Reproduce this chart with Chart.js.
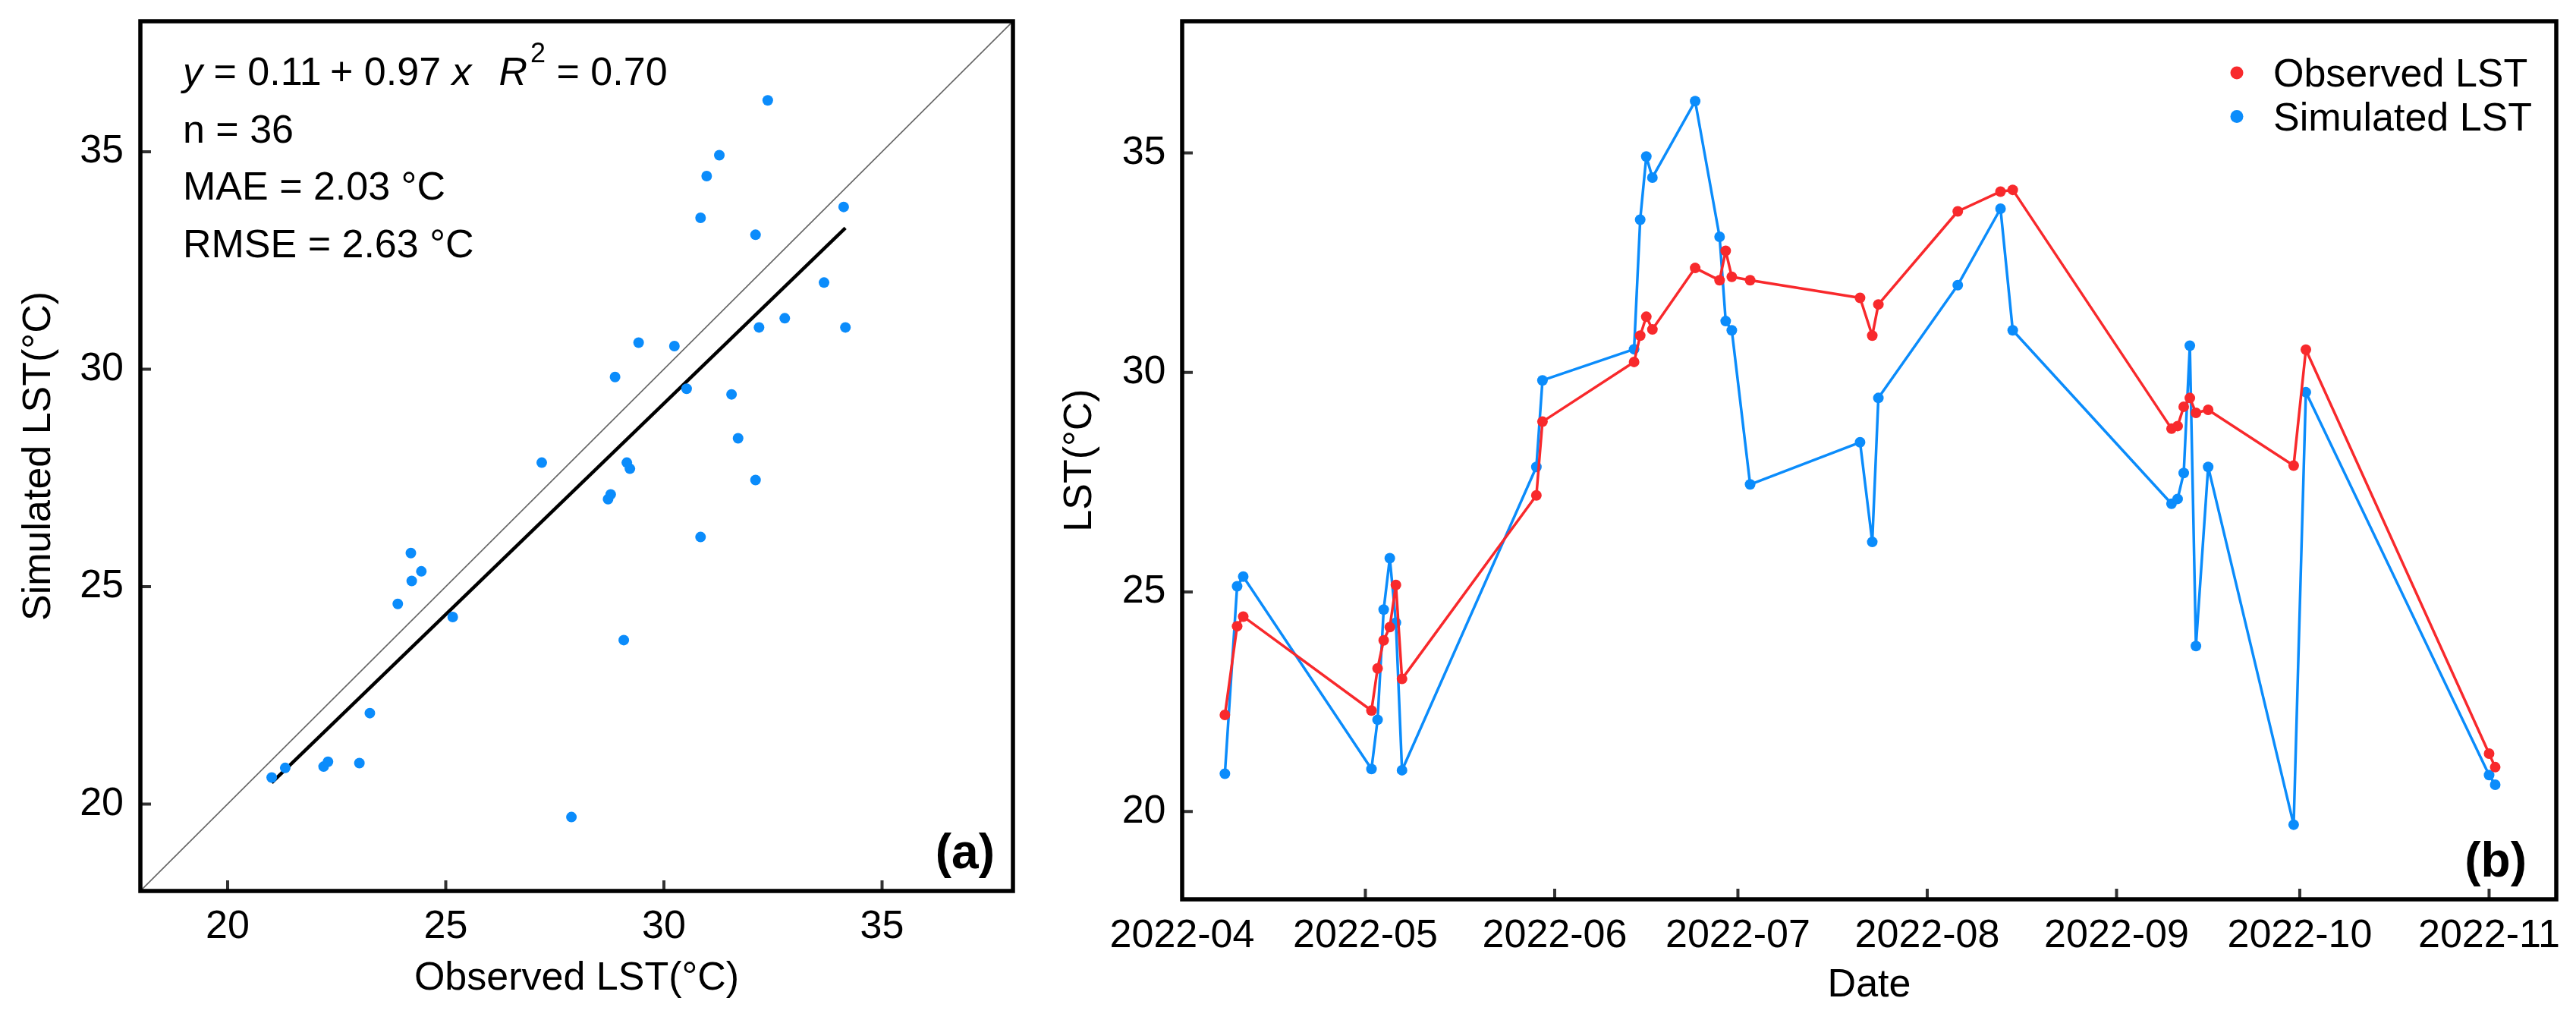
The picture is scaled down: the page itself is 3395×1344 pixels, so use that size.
<!DOCTYPE html>
<html>
<head>
<meta charset="utf-8">
<title>Observed vs simulated LST</title>
<script src="https://cdn.jsdelivr.net/npm/chart.js@4.4.1/dist/chart.umd.min.js"></script>
<style>
  html, body { margin: 0; padding: 0; background: #fff; overflow: hidden; }
  canvas { position: absolute; left: 0; top: 0; }
</style>
</head>
<body>
<canvas id="scatterChart" width="3395" height="1344"></canvas>
<canvas id="seriesChart" width="3395" height="1344"></canvas>
<script>
// acquisition dates, one per observed/simulated pair
const dates = [
  '2022-04-08', '2022-04-10', '2022-04-11', '2022-05-02', '2022-05-03', '2022-05-04',
  '2022-05-05', '2022-05-06', '2022-05-07', '2022-05-29', '2022-05-30', '2022-06-14',
  '2022-06-15', '2022-06-16', '2022-06-17', '2022-06-24', '2022-06-28', '2022-06-29',
  '2022-06-30', '2022-07-03', '2022-07-21', '2022-07-23', '2022-07-24', '2022-08-06',
  '2022-08-13', '2022-08-15', '2022-09-10', '2022-09-11', '2022-09-12', '2022-09-13',
  '2022-09-14', '2022-09-16', '2022-09-30', '2022-10-02', '2022-11-01', '2022-11-02'
];
const observedLST = [
  22.20, 24.22, 24.44, 22.30, 23.26, 23.90,
  24.20, 25.16, 23.02, 27.20, 28.88, 30.24,
  30.84, 31.27, 30.98, 32.38, 32.10, 32.77,
  32.18, 32.10, 31.70, 30.84, 31.55, 33.67,
  34.12, 34.16, 28.72, 28.78, 29.22, 29.42,
  29.08, 29.15, 27.88, 30.52, 21.32, 21.01
];
const simulatedLST = [
  20.86, 25.13, 25.35, 20.97, 22.09, 24.60,
  25.77, 24.30, 20.94, 27.85, 29.82, 30.53,
  33.48, 34.92, 34.44, 36.18, 33.09, 31.17,
  30.96, 27.45, 28.41, 26.14, 29.42, 31.99,
  33.73, 30.96, 27.01, 27.12, 27.71, 30.61,
  23.77, 27.85, 19.70, 29.55, 20.83, 20.61
];

// fit reported on panel (a)
const fitIntercept = 0.11;
const fitSlope = 0.97;
const fitR2 = '0.70';
const statLines = ['n = 36', 'MAE = 2.03 \u00B0C', 'RMSE = 2.63 \u00B0C'];

const lstTicks = [20, 25, 30, 35];
const lstMin = 18, lstMax = 38;
const monthTicks = ['2022-04', '2022-05', '2022-06', '2022-07', '2022-08', '2022-09', '2022-10', '2022-11'];
const dateMin = '2022-04-01', dateMax = '2022-11-12';

const RED = '#f8292c';
const BLUE = '#0b8cfb';
const FONT = "'Liberation Sans', Arial, sans-serif";

Chart.defaults.font.family = FONT;
Chart.defaults.font.size = 52;
Chart.defaults.font.lineHeight = 1.2;
Chart.defaults.color = '#000';

function dayNum(s) {
  const p = s.split('-');
  return Date.UTC(+p[0], +p[1] - 1, p[2] ? +p[2] : 1) / 864e5;
}

const monthByDay = {};
monthTicks.forEach(m => { monthByDay[dayNum(m)] = m; });

function fixTicks(values) {
  return function(scale) { scale.ticks = values.map(v => ({value: v})); };
}
function fixSize(prop, size) {
  return function(scale) {
    scale[prop] = size;
    scale.paddingLeft = 0; scale.paddingRight = 0;
    scale.paddingTop = 0; scale.paddingBottom = 0;
  };
}

// box round the plot area and ticks pointing inwards
const frameAndTicks = {
  id: 'frameAndTicks',
  afterDraw(chart) {
    const {ctx, chartArea: a} = chart;
    const x = chart.scales.x, y = chart.scales.y;
    ctx.save();
    ctx.strokeStyle = '#333';
    ctx.lineWidth = 4;
    ctx.beginPath();
    x.ticks.forEach(t => {
      const p = x.getPixelForValue(t.value);
      ctx.moveTo(p, a.bottom); ctx.lineTo(p, a.bottom - 14);
    });
    y.ticks.forEach(t => {
      const p = y.getPixelForValue(t.value);
      ctx.moveTo(a.left, p); ctx.lineTo(a.left + 14, p);
    });
    ctx.stroke();
    ctx.strokeStyle = '#000';
    ctx.lineWidth = 5.5;
    ctx.strokeRect(a.left, a.top, a.right - a.left, a.bottom - a.top);
    ctx.restore();
  }
};

const panelTag = {
  id: 'panelTag',
  afterDraw(chart, args, opts) {
    const {ctx, chartArea: a} = chart;
    ctx.save();
    ctx.font = 'bold 64px ' + FONT;
    ctx.fillStyle = '#000';
    ctx.textAlign = 'right';
    ctx.textBaseline = 'alphabetic';
    ctx.fillText(opts.text, a.right - opts.dx, a.bottom - opts.dy);
    ctx.restore();
  }
};

const statsText = {
  id: 'statsText',
  afterDraw(chart) {
    const {ctx, chartArea: a} = chart;
    const x0 = a.left + 56;
    let base = a.top + 84;
    ctx.save();
    ctx.fillStyle = '#000';
    ctx.textBaseline = 'alphabetic';
    ctx.textAlign = 'left';
    const normal = '52px ' + FONT, italic = 'italic 52px ' + FONT;
    let cx = x0;
    const put = (txt, font, dy) => {
      ctx.font = font;
      ctx.fillText(txt, cx, base - (dy || 0));
      cx += ctx.measureText(txt).width;
    };
    put('y', italic);
    put(' = ' + fitIntercept.toFixed(2) + ' ', normal);
    cx -= 3;
    put('+', normal);
    put(' ' + fitSlope.toFixed(2) + ' ', normal);
    put('x', italic);
    cx += 36;
    put('R', italic);
    cx += 4;
    put('2', '36px ' + FONT, 30);
    put(' = ' + fitR2, normal);
    statLines.forEach(line => {
      base += 75.5;
      ctx.font = normal;
      ctx.fillText(line, x0, base);
    });
    ctx.restore();
  }
};

const seriesLegend = {
  id: 'seriesLegend',
  afterDraw(chart) {
    const {ctx, chartArea: a} = chart;
    ctx.save();
    ctx.font = '52px ' + FONT;
    ctx.textBaseline = 'alphabetic';
    ctx.textAlign = 'left';
    chart.data.datasets.forEach((ds, i) => {
      const base = a.top + 86 + i * 57.5;
      ctx.fillStyle = ds.borderColor;
      ctx.beginPath();
      ctx.arc(a.right - 421, base - 18, 8.5, 0, Math.PI * 2);
      ctx.fill();
      ctx.fillStyle = '#000';
      ctx.fillText(ds.label, a.right - 373, base);
    });
    ctx.restore();
  }
};

// panel (a): simulated against observed
const pairs = observedLST.map((o, i) => ({x: o, y: simulatedLST[i]}));
const obsLo = Math.min(...observedLST), obsHi = Math.max(...observedLST);
const fitLine = [obsLo, obsHi].map(v => ({x: v, y: fitIntercept + fitSlope * v}));
const oneToOne = [{x: lstMin, y: lstMin}, {x: lstMax, y: lstMax}];

new Chart(document.getElementById('scatterChart'), {
  type: 'scatter',
  data: {
    datasets: [
      {label: 'Pairs', data: pairs, backgroundColor: BLUE, borderColor: BLUE,
       pointRadius: 7, pointHoverRadius: 7, pointBorderWidth: 0},
      {label: 'Fit', data: fitLine, showLine: true, borderColor: '#000', borderWidth: 4.5,
       pointRadius: 0, pointHoverRadius: 0},
      {label: '1:1', data: oneToOne, showLine: true, borderColor: '#666', borderWidth: 1.6,
       pointRadius: 0, pointHoverRadius: 0}
    ]
  },
  options: {
    responsive: false,
    animation: false,
    devicePixelRatio: 1,
    events: [],
    layout: {padding: {left: 0, top: 28, right: 2060, bottom: 0}},
    plugins: {
      legend: {display: false},
      tooltip: {enabled: false},
      panelTag: {text: '(a)', dx: 24, dy: 30}
    },
    scales: {
      x: {
        type: 'linear', min: lstMin, max: lstMax,
        grid: {display: false, drawTicks: false},
        border: {display: false},
        ticks: {padding: 16.8, autoSkip: false, maxRotation: 0},
        title: {display: true, text: 'Observed LST(\u00B0C)', padding: {top: 0, bottom: 22.8}},
        afterBuildTicks: fixTicks(lstTicks),
        afterFit: fixSize('height', 170)
      },
      y: {
        type: 'linear', min: lstMin, max: lstMax,
        grid: {display: false, drawTicks: false},
        border: {display: false},
        ticks: {padding: 22, autoSkip: false},
        title: {display: true, text: 'Simulated LST(\u00B0C)', padding: {top: 20.8, bottom: 0}},
        afterBuildTicks: fixTicks(lstTicks),
        afterFit: fixSize('width', 185)
      }
    }
  },
  plugins: [frameAndTicks, statsText, panelTag]
});

// panel (b): time series
const days = dates.map(dayNum);
const observedSeries = days.map((d, i) => ({x: d, y: observedLST[i]}));
const simulatedSeries = days.map((d, i) => ({x: d, y: simulatedLST[i]}));

new Chart(document.getElementById('seriesChart'), {
  type: 'line',
  data: {
    datasets: [
      {label: 'Observed LST', data: observedSeries, borderColor: RED, backgroundColor: RED,
       borderWidth: 3.5, pointRadius: 7, pointHoverRadius: 7, pointBorderWidth: 0,
       tension: 0, borderJoinStyle: 'round', borderCapStyle: 'round'},
      {label: 'Simulated LST', data: simulatedSeries, borderColor: BLUE, backgroundColor: BLUE,
       borderWidth: 3.5, pointRadius: 7, pointHoverRadius: 7, pointBorderWidth: 0,
       tension: 0, borderJoinStyle: 'round', borderCapStyle: 'round'}
    ]
  },
  options: {
    responsive: false,
    animation: false,
    devicePixelRatio: 1,
    events: [],
    layout: {padding: {left: 1380, top: 28, right: 26, bottom: 0}},
    plugins: {
      legend: {display: false},
      tooltip: {enabled: false},
      panelTag: {text: '(b)', dx: 39, dy: 30}
    },
    scales: {
      x: {
        type: 'linear', min: dayNum(dateMin), max: dayNum(dateMax),
        grid: {display: false, drawTicks: false},
        border: {display: false},
        ticks: {padding: 17.8, autoSkip: false, maxRotation: 0, callback: v => monthByDay[v]},
        title: {display: true, text: 'Date', padding: {top: 0, bottom: 14.2}},
        afterBuildTicks: fixTicks(monthTicks.map(dayNum)),
        afterFit: fixSize('height', 159)
      },
      y: {
        type: 'linear', min: lstMin, max: lstMax,
        grid: {display: false, drawTicks: false},
        border: {display: false},
        ticks: {padding: 21.5, autoSkip: false},
        title: {display: true, text: 'LST(\u00B0C)', padding: {top: 12.8, bottom: 0}},
        afterBuildTicks: fixTicks(lstTicks),
        afterFit: fixSize('width', 178)
      }
    }
  },
  plugins: [frameAndTicks, seriesLegend, panelTag]
});
</script>
</body>
</html>
